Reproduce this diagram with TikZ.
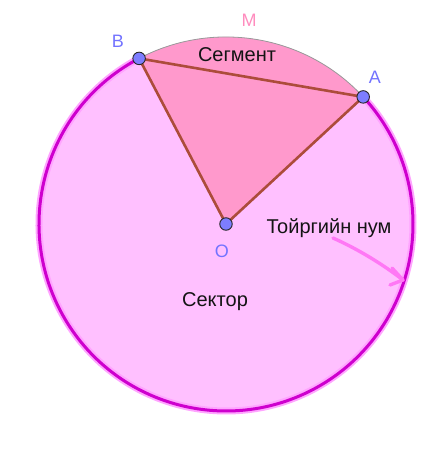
\documentclass[tikz,border=0pt]{standalone}
\usepackage{fontspec}
\setmainfont{Liberation Sans}
\usetikzlibrary{arrows.meta}
\definecolor{sectorfill}{RGB}{255,192,255}
\definecolor{segfill}{RGB}{255,153,204}
\definecolor{arcmag}{RGB}{206,0,206}
\definecolor{archalo}{RGB}{255,165,255}
\definecolor{chordcol}{RGB}{172,76,58}
\definecolor{ptblue}{RGB}{125,125,255}
\definecolor{lblblue}{RGB}{115,115,255}
\definecolor{mpink}{RGB}{255,140,190}
\definecolor{arrowpink}{RGB}{255,120,245}
\tikzset{
  ptnode/.style={circle, fill=ptblue, draw=black!85, line width=0.9pt, inner sep=0pt, minimum size=12.5pt},
  ptlabel/.style={text=lblblue, font=\fontsize{18}{18}\selectfont, anchor=base, inner sep=0pt},
  bodytext/.style={text=black!92, font=\fontsize{20}{20}\selectfont, anchor=base, inner sep=0pt},
  chordline/.style={chordcol, line width=2.6pt, line cap=round, line join=round}
}
\begin{document}
\begin{tikzpicture}[x=1pt,y=1pt]
\useasboundingbox (0,0) rectangle (427,-451);
\coordinate (O) at (226,-224);
\coordinate (A) at (363.2,-96.9);
\coordinate (B) at (139.1,-58.4);
% disc (sector)
\fill[sectorfill] (O) circle (187);
% minor sector (triangle + segment)
\fill[segfill] (O) -- (A) arc[start angle=42.8, end angle=117.7, radius=187] -- cycle;
\draw[gray!80, line width=0.8pt] (A) arc[start angle=42.8, end angle=117.7, radius=187];
% major arc
\draw[archalo, line width=7pt] (B) arc[start angle=117.7, end angle=402.8, radius=187];
\draw[arcmag, line width=3pt] (B) arc[start angle=117.7, end angle=402.8, radius=187];
% triangle
\draw[chordline] (B) -- (A);
\draw[chordline] (A) -- (O);
\draw[chordline] (O) -- (B);
% points
\node[ptnode] (Ap) at (A) {};
\node[ptnode] (Bp) at (B) {};
\node[ptnode] (Op) at (O) {};
% labels
\node[ptlabel] (Al) at (375,-83) {A};
\node[ptlabel] (Bl) at (118,-47) {B};
\node[ptlabel] (Ol) at (222,-257) {O};
\node[ptlabel, text=mpink] (Ml) at (249,-26) {M};
\node[bodytext] (seg) at (237,-61) {Сегмент};
\node[bodytext] (arcl) at (329,-233) {Тойргийн нум};
\node[bodytext] (sec) at (215,-306) {Сектор};
% arrow
\coordinate (ar1) at (333,-238);
\coordinate (ar2) at (403,-280);
\draw[arrowpink, line width=3.4pt, line cap=round, line join=round]
  (ar1) .. controls (360,-250) and (385,-266) .. (ar2);
\draw[arrowpink, line width=3.4pt, line cap=round, line join=round]
  (392,-268) -- (ar2) -- (390,-285);
\end{tikzpicture}
\end{document}
